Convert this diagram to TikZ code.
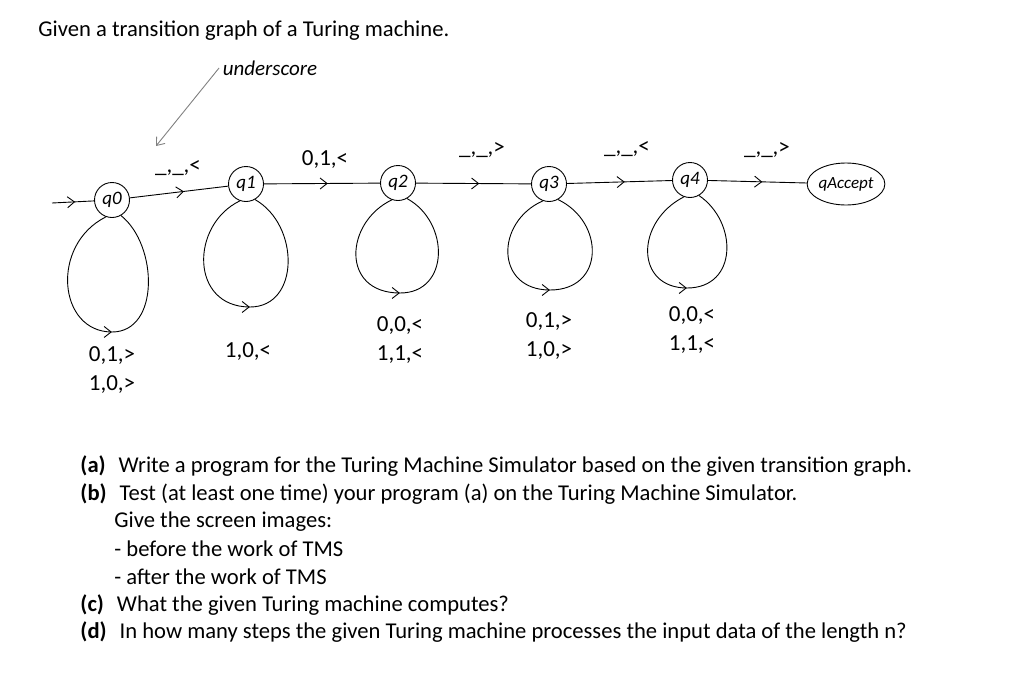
\documentclass[tikz,border=0pt]{standalone}
\usepackage{fontspec}
\setmainfont{Carlito}
\usetikzlibrary{arrows.meta,decorations.markings,shapes.geometric}
\begin{document}
\begin{tikzpicture}[x=1pt,y=-1pt,line width=0.9pt,
  st/.style={draw,circle,minimum size=35pt,inner sep=0pt,font=\itshape\fontsize{19}{19}\selectfont},
  tr/.style={draw,postaction={decorate},decoration={markings,mark=at position 0.55 with {\arrow{Straight Barb[length=7pt,width=11pt]}}}},
  lp/.style={draw,postaction={decorate},decoration={markings,mark=at position 0.999 with {\arrow{Straight Barb[length=7pt,width=11pt]}}}},
  hw/.style={font=\fontsize{23}{29}\selectfont,align=center},
  txt/.style={anchor=west,font=\fontsize{22.6}{24}\selectfont,inner sep=0pt}]
\useasboundingbox (0,0) rectangle (1024,680);
\node[txt] (title) at (38,31) {Given a transition graph of a Turing machine.};
\node[st] (q0) at (112,200) {q0};
\node[st] (q1) at (246,184) {q1};
\node[st] (q2) at (398,183) {q2};
\node[st] (q3) at (549,184) {q3};
\node[st] (q4) at (690,180) {q4};
\node[draw,ellipse,minimum width=70pt,minimum height=42pt,inner sep=0pt,font=\itshape\fontsize{17}{17}\selectfont] (qa) at (846,184) {qAccept};
\coordinate (in) at (52,203);
\draw[tr] (in) -- (q0);
\draw[tr] (q0) -- (q1);
\draw[tr] (q1) -- (q2);
\draw[tr] (q2) -- (q3);
\draw[tr] (q3) -- (q4);
\draw[tr] (q4) -- (qa);
\node[hw] (l01) at (178,168) {\_,\_,<};
\node[hw] (l12) at (325,160) {0,1,<};
\node[hw] (l23) at (482,150) {\_,\_,>};
\node[hw] (l34) at (627,149) {\_,\_,<};
\node[hw] (l4a) at (767,150) {\_,\_,>};
\node[hw,font=\itshape\fontsize{21}{21}\selectfont] (us) at (270,68) {underscore};
\draw[-{Straight Barb[length=7pt,width=11pt]},gray] (us.west) -- (156,146);
% loops
\draw[lp] (q0.-110) .. controls (50,245) and (58,332) .. (112,332);
\draw (112,332) .. controls (160,332) and (158,245) .. (q0.-60);
\draw[lp] (q1.-110) .. controls (190,225) and (190,307) .. (250,307);
\draw (250,307) .. controls (300,307) and (300,225) .. (q1.-60);
\draw[lp] (q2.-110) .. controls (345,222) and (340,293) .. (400,293);
\draw (400,293) .. controls (450,293) and (450,222) .. (q2.-60);
\draw[lp] (q3.-110) .. controls (495,222) and (495,290) .. (550,290);
\draw (550,290) .. controls (605,290) and (605,222) .. (q3.-60);
\draw[lp] (q4.-110) .. controls (635,222) and (635,288) .. (687,288);
\draw (687,288) .. controls (738,288) and (738,222) .. (q4.-60);
\node[hw] (b0) at (112,370) {0,1,>\\1,0,>};
\node[hw] (b1) at (248,352) {1,0,<};
\node[hw] (b2) at (400,340) {0,0,<\\1,1,<};
\node[hw] (b3) at (549,336) {0,1,>\\1,0,>};
\node[hw] (b4) at (692,330) {0,0,<\\1,1,<};
\node[txt] (a) at (80,466) {\textbf{(a)}\hspace{13pt}Write a program for the Turing Machine Simulator based on the given transition graph.};
\node[txt] (b) at (80,494) {\textbf{(b)}\hspace{13pt}Test (at least one time) your program (a) on the Turing Machine Simulator.};
\node[txt] (b1t) at (114,522) {Give the screen images:};
\node[txt] (b2t) at (114,549) {- before the work of TMS};
\node[txt] (b3t) at (114,577) {- after the work of TMS};
\node[txt] (c) at (80,605) {\textbf{(c)}\hspace{13pt}What the given Turing machine computes?};
\node[txt] (d) at (80,632) {\textbf{(d)}\hspace{13pt}In how many steps the given Turing machine processes the input data of the length n?};
\end{tikzpicture}
\end{document}
